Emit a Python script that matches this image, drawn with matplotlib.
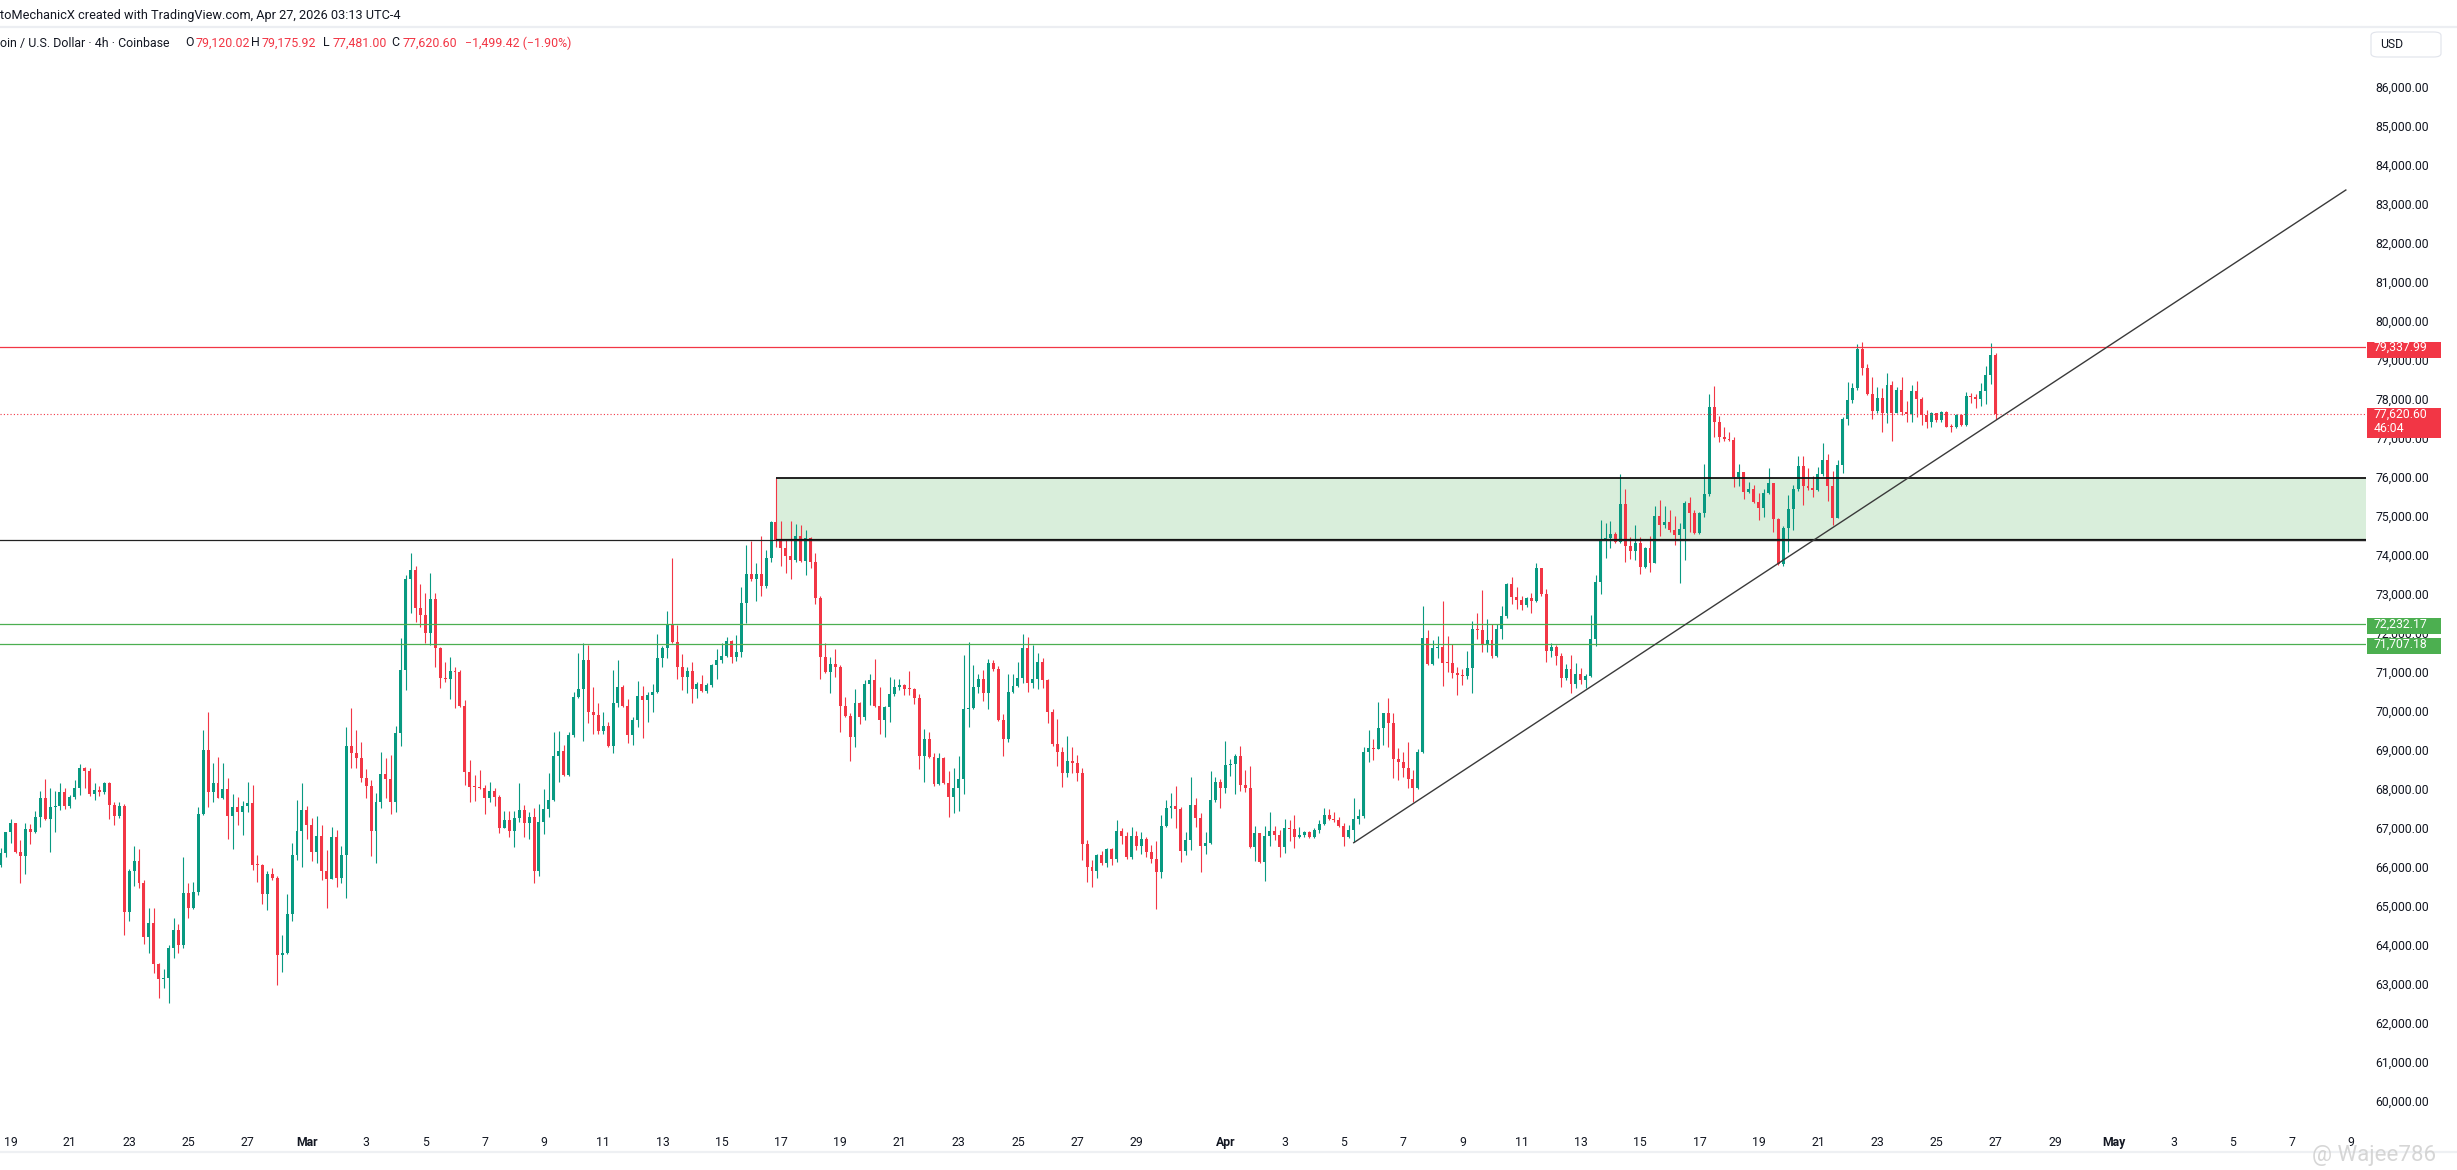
import matplotlib
matplotlib.use("Agg")
import matplotlib.pyplot as plt
import matplotlib.dates as mdates
import matplotlib.transforms as mtransforms
from matplotlib.patches import Rectangle, FancyBboxPatch
from matplotlib.lines import Line2D
import numpy as np
import pandas as pd

plt.rcParams['font.family'] = ['Roboto', 'DejaVu Sans']

W, H = 2457, 1170
UP = "#089981"
DOWN = "#f23645"
TXT = "#131722"
LEVEL_GREEN = "#4caf50"

# BTC/USD 4h candles, Feb 18 16:00 -> Apr 27 00:00 (UTC-4)
last_candle = "2026-04-27 00:00"
first_open = 66052
closes = [
    66351, 66890, 67120, 66393, 66282, 66966, 66907, 67274, 67761, 67222, 67539, 67564, 67923, 67573, 67804,
    68017, 68530, 68470, 67872, 67966, 67932, 68146, 67599, 67317, 67556, 64855, 65898, 66146, 65582, 64214,
    64556, 63505, 63120, 63146, 63915, 64377, 64000, 65325, 64958, 65351, 67359, 69000, 67923, 68146, 67778,
    67992, 67317, 67539, 67419, 67564, 67633, 66052, 66040, 65317, 65812, 65710, 63752, 63787, 64787, 66299,
    66915, 67462, 67077, 66385, 66795, 65906, 65693, 66770, 65710, 66299, 69103, 68915, 68787, 68291, 68086,
    66932, 67658, 68376, 68265, 67658, 69428, 71052, 73385, 73616, 72633, 72453, 72009, 72864, 71607, 70855,
    70829, 71026, 71000, 70137, 68445, 68060, 68052, 68026, 67778, 67958, 67803, 67009, 67205, 66923, 67265,
    67462, 67137, 67291, 65898, 67146, 67479, 67718, 68847, 68975, 68360, 69385, 70368, 70565, 71308, 69983,
    69898, 69488, 69616, 69103, 70197, 70625, 70129, 69385, 69770, 70394, 70283, 70411, 70479, 71368, 71607,
    72206, 71778, 71120, 70880, 71025, 70555, 70683, 70521, 70666, 71179, 71307, 71410, 71795, 71393, 71504,
    72761, 73504, 73393, 73504, 73205, 73914, 74854, 74384, 74188, 73983, 73871, 74487, 73854, 74427, 73829,
    72906, 71393, 71008, 71196, 71136, 70136, 69880, 69341, 70196, 69854, 70683, 70795, 70136, 69769, 70111,
    70427, 70606, 70658, 70572, 70564, 70324, 68854, 69273, 68829, 68128, 68803, 68145, 67786, 68017, 68248,
    70042, 70068, 70606, 70811, 70453, 71239, 71077, 69769, 69273, 70478, 70641, 70854, 71624, 70726, 70820,
    71256, 70795, 69983, 69154, 68957, 68419, 68718, 68658, 68419, 66590, 66008, 65906, 66307, 66111, 66461,
    66196, 66923, 66803, 66265, 66803, 66547, 66718, 66393, 66205, 65880, 67051, 67521, 67564, 67487, 66419,
    66692, 67589, 67248, 66547, 66607, 67718, 68171, 68034, 68615, 68641, 68846, 68102, 68034, 66504, 66863,
    66137, 66795, 66923, 66821, 66504, 66991, 66983, 66760, 66821, 66906, 66760, 66948, 67102, 67333, 67222,
    67210, 67060, 66760, 66948, 67222, 67307, 68957, 69060, 69034, 69555, 69940, 69684, 68769, 68700, 68547,
    68256, 68034, 68957, 71880, 71205, 71607, 71649, 71239, 71220, 70983, 70923, 70900, 71094, 72094, 72076,
    71718, 71820, 71410, 72094, 72436, 73248, 72931, 72846, 72718, 72889, 72820, 73658, 73000, 71547, 71649,
    71410, 70855, 71068, 70692, 70940, 70794, 70897, 71837, 73316, 74401, 74444, 74530, 74342, 75299, 74239,
    74111, 74316, 73700, 74171, 73803, 75000, 74769, 74837, 74641, 74512, 74666, 75324, 75085, 74556, 75069,
    75564, 77787, 77402, 77018, 76975, 76960, 76009, 76120, 75624, 75684, 75368, 75197, 75599, 75838, 74915,
    73761, 74701, 75171, 75684, 76282, 75760, 75720, 75667, 76077, 76436, 75778, 74958, 76308, 77488, 77975,
    78274, 79274, 78787, 78129, 77701, 78017, 77650, 78360, 77650, 78231, 77676, 77607, 78206, 78000, 77590,
    77402, 77633, 77462, 77659, 77291, 77270, 77590, 77334, 78077, 78043, 78000, 78206, 78616, 79120.02, 77620.60,
]
highs = [
    66479, 66907, 67222, 67120, 66693, 67120, 67103, 67436, 67949, 68257, 68017, 67949, 68146, 68017, 67846,
    68231, 68641, 68573, 68530, 68146, 68086, 68188, 68171, 67659, 67659, 67616, 65941, 66539, 66453, 65667,
    64941, 64941, 63547, 63377, 64000, 64684, 64530, 66248, 65582, 65624, 67530, 69513, 69983, 68658, 68812,
    68658, 68274, 67864, 67804, 67693, 68188, 68103, 66308, 66077, 65906, 65966, 65770, 64257, 65308, 66624,
    67718, 68146, 67573, 67248, 67308, 67077, 66436, 67017, 66949, 66539, 69581, 70069, 69513, 69214, 68505,
    68231, 67889, 68958, 68787, 68873, 69616, 71864, 73488, 74060, 73718, 73257, 73035, 73530, 73017, 71633,
    71265, 71376, 71137, 71052, 70283, 68744, 68360, 68487, 68103, 68171, 68017, 67847, 67436, 67436, 67436,
    68146, 67590, 67419, 67505, 67607, 67992, 68402, 69470, 69488, 69128, 69470, 70496, 71496, 71735, 71693,
    70625, 70197, 69983, 69727, 71052, 71308, 70667, 70300, 69855, 70769, 70641, 70496, 70684, 71975, 71667,
    72573, 73915, 72206, 71461, 71136, 71265, 70752, 70914, 70709, 71196, 71589, 71752, 71889, 71820, 71948,
    73188, 74256, 74367, 73786, 74487, 74128, 74880, 75965, 74871, 74401, 74871, 74795, 74769, 74641, 74453,
    74043, 72957, 71752, 71376, 71589, 71179, 70367, 69940, 70555, 70239, 70795, 70948, 71324, 70624, 70128,
    70863, 70811, 70811, 70683, 71034, 70598, 70436, 69529, 69453, 68914, 68914, 68829, 68461, 68547, 68846,
    71436, 71761, 71179, 70948, 71051, 71324, 71307, 71153, 69914, 70940, 70948, 71256, 71974, 71889, 71692,
    71478, 71367, 70820, 70043, 69795, 69086, 69359, 69086, 68872, 68530, 66692, 66179, 66333, 66410, 66478,
    66478, 67205, 67008, 66906, 67034, 66923, 66889, 66778, 66564, 66667, 67333, 67718, 67889, 68077, 67547,
    66906, 68299, 67761, 67376, 66906, 68461, 68316, 68248, 69231, 68761, 68897, 69103, 68487, 68589, 67051,
    66880, 67051, 67401, 67051, 66948, 67222, 67205, 67333, 67034, 66923, 66923, 67008, 67205, 67504, 67478,
    67401, 67273, 67137, 67077, 67761, 67487, 69085, 69513, 69273, 70222, 69957, 70325, 69940, 69060, 68957,
    69213, 68487, 69017, 72692, 72077, 71820, 71923, 72820, 71923, 71709, 71136, 71068, 71538, 72307, 72504,
    73102, 72359, 72222, 72231, 72692, 73290, 73444, 73171, 72948, 72931, 73017, 73786, 73675, 73119, 71752,
    71692, 71478, 71196, 71436, 71222, 71094, 70948, 72461, 73487, 74897, 74811, 74871, 74598, 76077, 75692,
    74470, 74769, 74470, 74213, 74487, 75256, 75410, 75256, 75153, 75009, 74811, 75393, 75495, 75153, 75111,
    76334, 78129, 78334, 77573, 77274, 77163, 77035, 76334, 76137, 75864, 75795, 75582, 75684, 76223, 75855,
    74941, 74744, 75539, 75795, 76539, 76539, 76240, 76026, 76266, 76864, 76582, 76155, 76436, 77547, 78445,
    78402, 79411, 79453, 78889, 78556, 78317, 78274, 78658, 78470, 78300, 78556, 77949, 78360, 78453, 78060,
    77718, 77676, 77650, 77701, 77701, 77359, 77616, 77616, 78188, 78163, 78129, 78402, 78855, 79428, 79175.92,
]
lows = [
    66009, 66265, 66607, 66350, 65582, 65812, 66581, 66881, 67035, 67206, 66393, 66907, 67462, 67479, 67505,
    67744, 67846, 68035, 67829, 67718, 67821, 67864, 67240, 67086, 67265, 64257, 64624, 65513, 65470, 64026,
    63804, 63291, 62633, 62889, 62505, 63676, 63804, 63915, 64701, 64915, 65283, 67334, 67547, 67676, 67761,
    67735, 66718, 66462, 67077, 66821, 67419, 65923, 65624, 65051, 64898, 65667, 62975, 63317, 63770, 64624,
    66180, 66009, 66718, 66154, 66111, 65667, 64958, 65693, 65496, 65599, 65214, 68547, 68547, 68188, 67761,
    66291, 66094, 67522, 67778, 67351, 67419, 69112, 70539, 72522, 72291, 72163, 71752, 71693, 71137, 70599,
    70753, 70308, 70086, 70100, 68103, 67675, 67701, 67992, 67360, 67675, 67573, 66881, 66992, 66778, 66505,
    67163, 66778, 66719, 65582, 65778, 66838, 67291, 67701, 68188, 68342, 68342, 69342, 70325, 69231, 69684,
    69411, 69411, 69411, 69080, 68932, 70112, 70100, 69172, 69129, 69599, 69300, 69727, 69983, 70454, 71137,
    71351, 71750, 70812, 70538, 70453, 70196, 70324, 70495, 70470, 70624, 70820, 71222, 71376, 71239, 71290,
    71393, 72248, 73342, 72829, 72957, 73145, 73829, 74196, 73718, 73547, 73376, 73829, 73829, 73487, 73658,
    72743, 70829, 70983, 70453, 70880, 69470, 69854, 68726, 69068, 69667, 69769, 70153, 70100, 69410, 69324,
    69709, 70384, 70538, 70410, 70410, 70179, 68512, 68188, 68800, 68077, 68100, 68119, 67290, 67393, 67444,
    67863, 69598, 70042, 70453, 70256, 70051, 71025, 69740, 68854, 69213, 70453, 70606, 70726, 70496, 70598,
    70564, 70598, 69684, 69103, 68590, 68060, 68316, 68419, 68213, 66179, 65624, 65478, 65709, 66051, 66008,
    66051, 66137, 66590, 66197, 66197, 66436, 66325, 66265, 66111, 64914, 65709, 67017, 67265, 66991, 66137,
    66307, 66436, 67017, 65880, 66325, 66590, 67675, 67504, 67906, 68333, 67863, 67957, 67914, 66478, 66162,
    66111, 65641, 66538, 66692, 66248, 66367, 66675, 66478, 66735, 66778, 66740, 66735, 66863, 67077, 67205,
    67162, 67034, 66538, 66735, 66632, 67102, 67247, 68700, 68743, 69026, 69128, 69085, 68290, 68230, 68299,
    68017, 67658, 67991, 68931, 71179, 71179, 71350, 70641, 71008, 70855, 70410, 70666, 70820, 70470, 71837,
    71521, 71521, 71367, 71376, 71837, 72376, 72735, 72607, 72589, 72658, 72504, 72803, 72948, 71265, 71393,
    71179, 70607, 70794, 70470, 70581, 70692, 70581, 70863, 71667, 73000, 73931, 74171, 74299, 74316, 73829,
    73889, 73871, 73512, 73675, 73572, 73786, 74487, 74683, 74598, 74256, 73273, 73871, 74598, 74530, 74530,
    74966, 75522, 77018, 76889, 76932, 76930, 75752, 75770, 75436, 75582, 75342, 74898, 74966, 75564, 74599,
    73744, 73718, 74086, 74642, 75650, 75282, 75667, 75496, 75650, 76034, 75394, 74770, 74941, 76094, 77334,
    77906, 78231, 78616, 78103, 77488, 77633, 77163, 77377, 76932, 77633, 77590, 77419, 77402, 77547, 77334,
    77248, 77291, 77419, 77419, 77274, 77146, 77248, 77308, 77308, 77906, 77761, 77821, 77872, 78385, 77481.00,
]
assert len(closes) == len(highs) == len(lows), (len(closes), len(highs), len(lows))

# drawn levels
resistance = 79337.99
supports = [72232.17, 71707.18]
zone_low, zone_high = 74390, 75965
zone_start_idx = 157
last_price = 77620.60
countdown = "46:04"
trend_times = ["2026-04-05 08:00", "2026-05-08 19:40"]
trend_prices = [66623, 83359]

feb_ticks = [19, 21, 23, 25, 27]
mar_ticks = [1, 3, 5, 7, 9, 11, 13, 15, 17, 19, 21, 23, 25, 27, 29]
apr_ticks = [1, 3, 5, 7, 9, 11, 13, 15, 17, 19, 21, 23, 25, 27, 29]
may_ticks = [1, 3, 5, 7, 9]
month_names = {2: "Feb", 3: "Mar", 4: "Apr", 5: "May"}
price_ticks = list(range(60000, 86001, 1000))


def fx(px):
    return px / W


def fy(py):
    return 1 - py / H


fig = plt.figure(figsize=(W / 100, H / 100), dpi=100, facecolor="white")
ax = fig.add_axes([0, fy(1125), fx(2366), (1125 - 28) / H])
ax.set_facecolor("white")
for s in ax.spines.values():
    s.set_visible(False)

times = pd.date_range(end=last_candle, periods=len(closes), freq="4h")
x = mdates.date2num(times.to_pydatetime())
opens = np.array([first_open] + closes[:-1], dtype=float)
c = np.array(closes, dtype=float)
hi = np.array(highs, dtype=float)
lo = np.array(lows, dtype=float)
up = c >= opens
cols = np.where(up, UP, DOWN)

xmin = mdates.date2num(pd.Timestamp("2026-02-18 15:25"))
xmax = mdates.date2num(pd.Timestamp("2026-05-09 12:00"))
ax.set_xlim(xmin, xmax)
ax.set_ylim(59385, 87513)

# demand zone
ax.add_patch(Rectangle((x[zone_start_idx], zone_low), xmax - x[zone_start_idx], zone_high - zone_low,
                       facecolor="#d9eedb", edgecolor="none", zorder=1))
ax.hlines(zone_high, x[zone_start_idx], xmax, color="#111111", lw=1.3, zorder=4)
ax.hlines(zone_low, x[zone_start_idx], xmax, color="#111111", lw=1.6, zorder=4)
ax.axhline(zone_low, color="#222222", lw=0.9, zorder=4)

# candles
ax.vlines(x, lo, hi, colors=cols, lw=0.8, zorder=3)
body_low = np.minimum(opens, c)
body_h = np.maximum(np.abs(c - opens), 26)
ax.bar(x, body_h, width=0.1, bottom=body_low, color=cols, linewidth=0, zorder=3)

# levels
ax.axhline(resistance, color=DOWN, lw=0.9, zorder=4)
for lvl in supports:
    ax.axhline(lvl, color=LEVEL_GREEN, lw=0.9, zorder=4)
ax.axhline(last_price, color=DOWN, lw=0.8, ls=(0, (1, 2)), zorder=4)

tt = mdates.date2num(pd.to_datetime(trend_times).to_pydatetime())
ax.plot(tt, trend_prices, color="#3a3a3a", lw=1.0, zorder=5, clip_on=False)

# axes ticks
ax.yaxis.tick_right()
ax.set_yticks(price_ticks)
ax.set_yticklabels([f"{p:,.2f}" for p in price_ticks])
ax.tick_params(axis="y", length=0, pad=7, labelsize=8.8, labelcolor=TXT)

tick_dates, tick_labels = [], []
for month, days in [(2, feb_ticks), (3, mar_ticks), (4, apr_ticks), (5, may_ticks)]:
    for d in days:
        tick_dates.append(pd.Timestamp(2026, month, d))
        tick_labels.append(month_names[month] if d == 1 else str(d))
ax.set_xticks(mdates.date2num([t.to_pydatetime() for t in tick_dates]))
ax.set_xticklabels(tick_labels)
ax.tick_params(axis="x", length=0, pad=8, labelsize=8.8, labelcolor=TXT)
for lab in ax.get_xticklabels():
    if not lab.get_text().isdigit():
        lab.set_fontweight("bold")

# price tags on the scale
trans = mtransforms.blended_transform_factory(fig.transFigure, ax.transData)
pu = 1000 / 39.0  # price per pixel


def tag(price, color, text, top_px=8, bottom_px=8):
    ax.add_patch(Rectangle((fx(2367), price - bottom_px * pu), fx(2441) - fx(2367), (top_px + bottom_px) * pu,
                           transform=trans, facecolor=color, edgecolor="none", zorder=6, clip_on=False))
    ax.text(fx(2374), price, text, transform=trans, color="white", fontsize=8.8, va="center", ha="left",
            zorder=7, clip_on=False)


tag(resistance, DOWN, f"{resistance:,.2f}", 5, 11)
tag(supports[0], LEVEL_GREEN, f"{supports[0]:,.2f}", 6, 10)
tag(supports[1], LEVEL_GREEN, f"{supports[1]:,.2f}", 6, 10)
tag(last_price, DOWN, f"{last_price:,.2f}", 6, 24)
ax.text(fx(2374), last_price - 15 * pu, countdown, transform=trans, color="white", fontsize=8.8,
        va="center", ha="left", zorder=7, clip_on=False)

# header
fig.text(fx(0), fy(15), "toMechanicX created with TradingView.com, Apr 27, 2026 03:13 UTC-4",
         fontsize=9.2, color=TXT, va="center", ha="left")
fig.add_artist(Line2D([0, 1], [fy(27), fy(27)], color="#eceef2", lw=1.6, transform=fig.transFigure))
row = fy(43)
fig.text(fx(0), row, "oin / U.S. Dollar · 4h · Coinbase", fontsize=8.9, color=TXT, va="center")
for key, val, kx, vx in [("O", "79,120.02", 185, 196), ("H", "79,175.92", 251, 262),
                         ("L", "77,481.00", 323, 333), ("C", "77,620.60", 391, 403)]:
    fig.text(fx(kx), row, key, fontsize=8.9, color=TXT, va="center")
    fig.text(fx(vx), row, val, fontsize=8.9, color=DOWN, va="center")
fig.text(fx(465), row, "−1,499.42 (−1.90%)", fontsize=8.9, color=DOWN, va="center")

fig.add_artist(FancyBboxPatch((fx(2371), fy(57)), fx(2441) - fx(2371), (57 - 32) / H,
                              boxstyle="round,pad=0,rounding_size=0.003", transform=fig.transFigure,
                              facecolor="white", edgecolor="#e0e3eb", lw=0.8))
fig.text(fx(2380), fy(44.5), "USD", fontsize=8.8, color=TXT, va="center")

# bottom separator + watermark
fig.add_artist(Line2D([0, 1], [fy(1152), fy(1152)], color="#eef0f3", lw=1.6, transform=fig.transFigure))
fig.text(fx(2312), fy(1155), "@ Wajee786", fontsize=16, color="#cfcfcf", va="center", ha="left", alpha=0.85)

fig.savefig("out.png", dpi=100, facecolor="white")
